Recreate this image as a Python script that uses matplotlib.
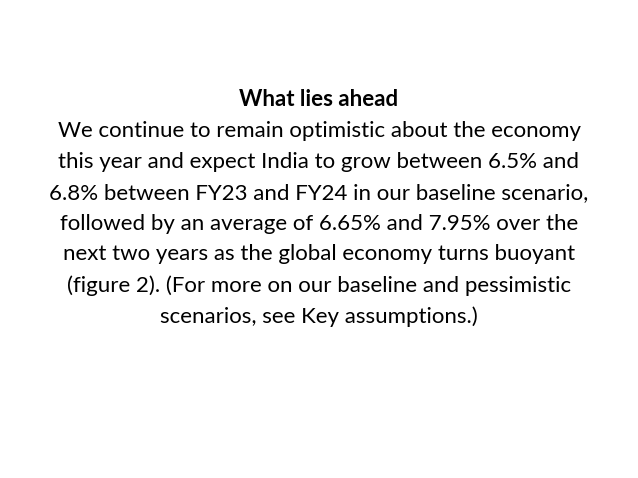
import matplotlib.pyplot as plt

# -----------------------------
# Slide text
# -----------------------------
TITLE = "What lies ahead"
LINES = [
    "We continue to remain optimistic about the economy",
    "this year and expect India to grow between 6.5% and",
    "6.8% between FY23 and FY24 in our baseline scenario,",
    "followed by an average of 6.65% and 7.95% over the",
    "next two years as the global economy turns buoyant",
    "(figure 2). (For more on our baseline and pessimistic",
    "scenarios, see Key assumptions.)",
]

W, H = 638, 478
fig = plt.figure(figsize=(W / 100, H / 100), dpi=100)
fig.patch.set_facecolor("white")

font = dict(family=["Lato", "DejaVu Sans"], fontsize=16, color="black",
            ha="center", va="center")

y0 = 100
step = 30.9
fig.text(0.5, 1 - y0 / H, TITLE, fontweight="bold", **font)
for i, line in enumerate(LINES):
    fig.text(0.5, 1 - (y0 + step * (i + 1)) / H, line, **font)

fig.savefig("out.png", dpi=100, facecolor="white")
